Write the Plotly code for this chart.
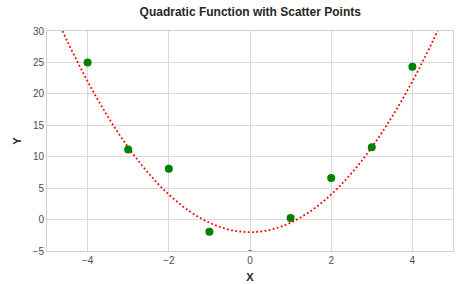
import plotly.graph_objects as go

# Scatter points
point_x = [-4, -3, -2, -1, 0, 1, 2, 3, 4]
point_y = [25.0, 11.15, 8.07, -1.95, -5.5, 0.25, 6.6, 11.5, 24.3]

# Quadratic curve samples
curve_x = [-5, -4.5, -4, -3.5, -3, -2.5, -2, -1.5, -1, -0.5, 0,
           0.5, 1, 1.5, 2, 2.5, 3, 3.5, 4, 4.5, 5]
curve_y = [35.5, 28.375, 22, 16.375, 11.5, 7.375, 4, 1.375, -0.5, -1.625, -2,
           -1.625, -0.5, 1.375, 4, 7.375, 11.5, 16.375, 22, 28.375, 35.5]

x_ticks = [-4, -2, 0, 2, 4]
y_ticks = [-5, 0, 5, 10, 15, 20, 25, 30]

fig = go.Figure()
fig.add_trace(go.Scatter(
    x=curve_x, y=curve_y, mode="lines",
    line=dict(color="#ff0000", width=1.8, dash="1.8px,2.4px", shape="spline"),
    showlegend=False, hoverinfo="skip"))
fig.add_trace(go.Scatter(
    x=point_x, y=point_y, mode="markers",
    marker=dict(color="#008000", size=8, line=dict(width=0)),
    showlegend=False, cliponaxis=True))

axis_common = dict(
    showgrid=True, gridcolor="#d9d9d9", gridwidth=1,
    showline=True, linecolor="#d0d0d0", linewidth=1, mirror=True,
    zeroline=False, ticks="", automargin=False,
    tickfont=dict(family="Liberation Sans, Arial", size=10, color="#4d4d4d"),
)

fig.update_layout(
    width=474, height=284,
    margin=dict(l=47, r=21, t=31, b=33),
    paper_bgcolor="white", plot_bgcolor="white",
    title=dict(text="<b>Quadratic Function with Scatter Points</b>",
               x=0.528, xanchor="center", y=0.957, yanchor="middle",
               font=dict(family="Liberation Sans, Arial", size=12, color="#262626")),
    xaxis=dict(range=[-5, 5], tickvals=x_ticks, ticktext=[f"\u2212{abs(v)}" if v < 0 else str(v) for v in x_ticks],
               title=dict(text="<b>X</b>", standoff=8,
                          font=dict(family="Liberation Sans, Arial", size=11, color="#262626")),
               **axis_common),
    yaxis=dict(range=[-5, 30], tickvals=y_ticks, ticktext=[f"\u2212{abs(v)}" if v < 0 else str(v) for v in y_ticks],
               title=dict(text="<b>Y</b>", standoff=8,
                          font=dict(family="Liberation Sans, Arial", size=11, color="#262626")),
               **axis_common),
)

fig.write_html("out.html")
